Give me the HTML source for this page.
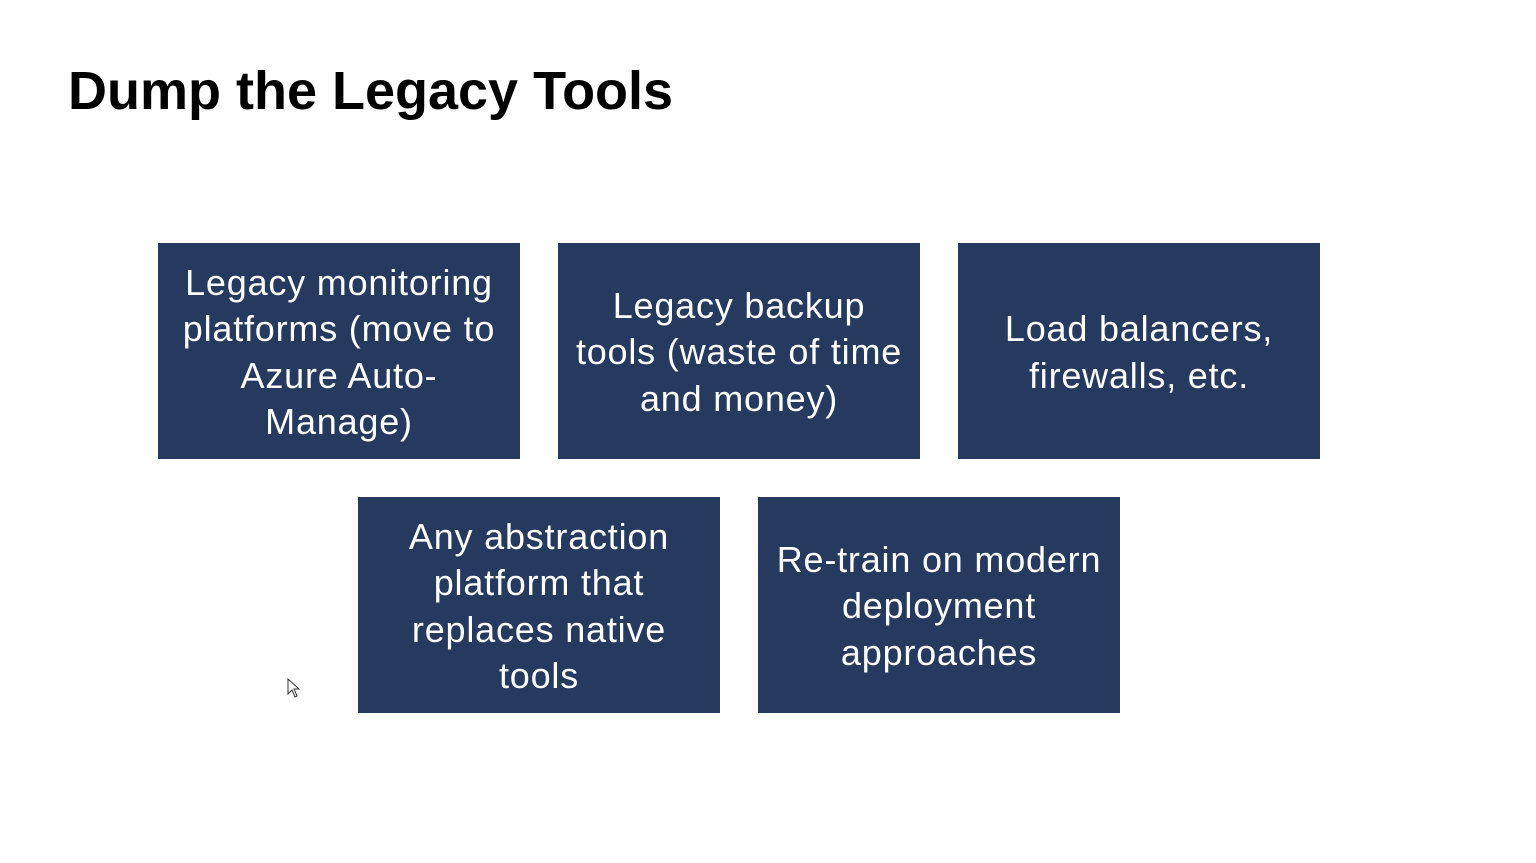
<!DOCTYPE html>
<html><head><meta charset="utf-8"><style>
html,body{margin:0;padding:0;background:#fff;width:1536px;height:863px;overflow:hidden;font-family:"Liberation Sans",sans-serif;}
h1{position:absolute;left:68px;top:60px;margin:0;font-size:54px;font-weight:bold;color:#000;letter-spacing:0px;white-space:nowrap;}
.b{position:absolute;width:362px;height:216px;background:#253a5e;color:#fff;display:flex;align-items:center;justify-content:center;text-align:center;font-size:36px;line-height:46.5px;letter-spacing:0.8px;white-space:nowrap;padding-top:3px;box-sizing:border-box;}
</style></head><body>
<h1>Dump the Legacy Tools</h1>
<div class="b" style="left:158px;top:243px">Legacy monitoring<br>platforms (move to<br>Azure Auto-<br>Manage)</div>
<div class="b" style="left:558px;top:243px">Legacy backup<br>tools (waste of time<br>and money)</div>
<div class="b" style="left:958px;top:243px">Load balancers,<br>firewalls, etc.</div>
<div class="b" style="left:358px;top:497px">Any abstraction<br>platform that<br>replaces native<br>tools</div>
<div class="b" style="left:758px;top:497px">Re-train on modern<br>deployment<br>approaches</div>
<svg style="position:absolute;left:287px;top:678px" width="16" height="22"><path d="M1 1 L1 16 L5 12 L8 19 L10 18 L7 11 L12 11 Z" fill="#fff" stroke="#333" stroke-width="1"/></svg>
</body></html>
